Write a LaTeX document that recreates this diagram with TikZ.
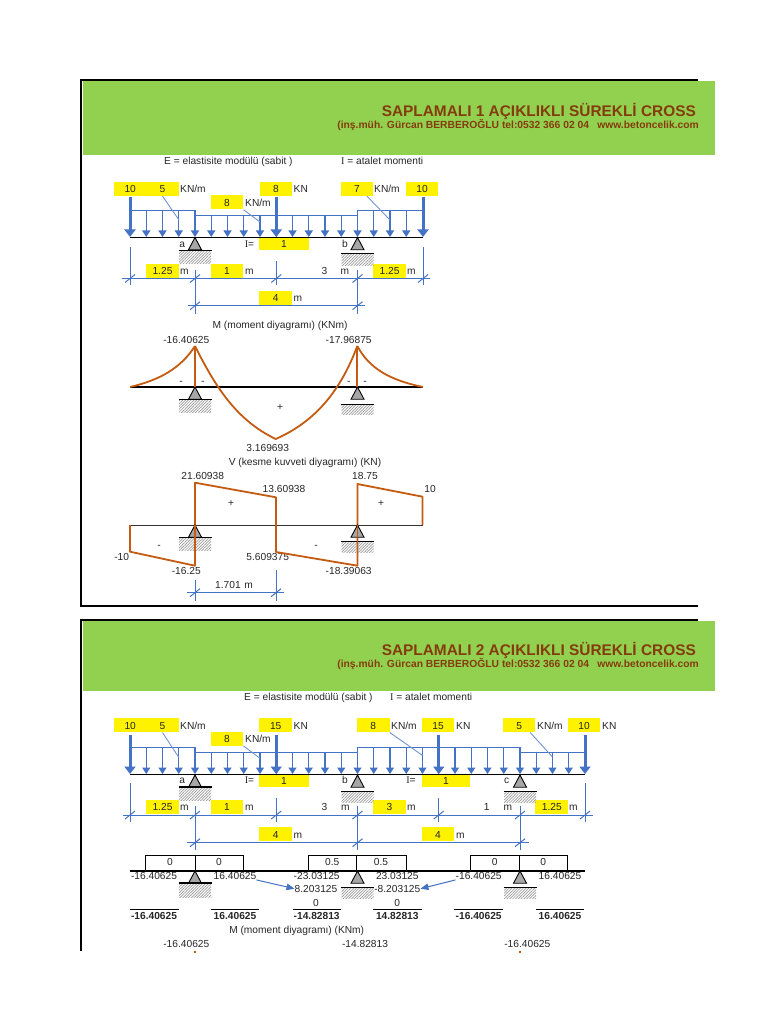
\documentclass[tikz,border=0pt]{standalone}
\usepackage{fontspec}
\setmainfont{Liberation Sans}
\newfontfamily\serifface{Liberation Serif}
\usepackage{xcolor}
\usetikzlibrary{arrows.meta, patterns.meta}
\definecolor{loadblue}{HTML}{4472C4}
\definecolor{leadblue}{HTML}{6F94D6}
\definecolor{diagorange}{HTML}{C55A11}
\definecolor{headgreen}{HTML}{92D050}
\definecolor{headbrown}{HTML}{843C0C}
\newcommand{\serifI}{\hbox{\serifface I}}
\tikzset{
    val/.style={inner sep=0pt, text height=7.4pt, text depth=0pt, font=\fontsize{10.2}{12}\selectfont, text=black!85},
    unit/.style={val, anchor=west},
    strong/.style={val, font=\bfseries\fontsize{10.2}{12}\selectfont},
    yval/.style={val, rectangle, fill=yellow, minimum width=32.5pt, minimum height=14pt},
    yhead/.style={inner sep=0pt, anchor=east, text=headbrown, font=\bfseries\fontsize{15.4}{18}\selectfont},
    ysub/.style={inner sep=0pt, anchor=east, text=headbrown, font=\bfseries\fontsize{10.3}{12}\selectfont},
    frameline/.style={draw=black, line width=2.4pt},
    band/.style={fill=headgreen},
    udl/.style={draw=loadblue, line width=1.2pt, -{Triangle[width=8pt, length=6.5pt]}},
    point/.style={draw=loadblue, line width=3pt, -{Triangle[width=11pt, length=7.5pt]}},
    loadtop/.style={draw=loadblue, line width=1pt},
    leader/.style={draw=leadblue, line width=0.9pt},
    carry/.style={draw=loadblue, line width=1pt, -{Triangle[width=6.5pt, length=8pt]}},
    dimline/.style={draw=loadblue, line width=1pt},
    beam/.style={draw=black, line width=1.3pt},
    beamthick/.style={draw=black, line width=2pt},
    pinfill/.style={draw=black, line width=0.9pt, fill=black!35},
    hatchbox/.style={pattern={Lines[angle=45, distance=2pt, line width=0.7pt]}, pattern color=black!40},
    diag/.style={draw=diagorange, line width=1.8pt, line join=round}
}
\begin{document}
\begin{tikzpicture}[x=1pt, y=-1pt]
    \useasboundingbox (0,0) rectangle (768,1024);

    % First sheet: frame and header
    \fill[band] (83,81) rectangle (715,155);
    \draw[frameline] (698,80) -- (81,80) -- (81,606) -- (698,606);
    \node[yhead] (titleA) at (696,112) {SAPLAMALI 1 AÇIKLIKLI SÜREKLİ CROSS};
    \node[ysub] (subA) at (699,125) {(inş.müh. Gürcan BERBEROĞLU tel:0532 366 02 04\hspace{0.8em}www.betoncelik.com};
    \node[unit] (noteE) at (164,161) {E = elastisite modülü (sabit )};
    \node[unit] (noteI) at (341,161) {\serifI{} = atalet momenti};

    % First sheet: loads
    \draw[loadtop] (130,211) -- (195,211) -- (195,215.5) -- (357.5,215.5) -- (357.5,211) -- (423,211);
    \foreach \i in {1,...,4,15,16,17} \draw[udl] ({130+16.25*\i},211) -- ({130+16.25*\i},237);
    \foreach \i in {5,...,14} \draw[udl] ({130+16.25*\i},215.5) -- ({130+16.25*\i},237);
    \foreach \px in {130,276.25,423} \draw[point] (\px,197) -- (\px,237);
    \draw[beam] (130,237.5) -- (423,237.5);

    % First sheet: input boxes
    \node[yval] (qa) at (130.2,189) {10};
    \node[yval] (qb) at (162.5,189) {5};
    \node[yval] (pm) at (276,189) {8};
    \node[yval] (qd) at (357,189) {7};
    \node[yval] (pr) at (422,189) {10};
    \node[yval] (qc) at (227,202.5) {8};
    \node[yval, minimum width=50pt, minimum height=12.5pt] (ia) at (284,244) {1};
    \foreach \px/\py/\txt [count=\n] in {180/189/{KN/m},293.5/189/KN,374/189/{KN/m},245/202.5/{KN/m},180/271/m,245/271/m,340.5/271/m,407/271/m,293.5/298/m} \node[unit] (ua\n) at (\px,\py) {\txt};
    \node[val] (ea) at (249.5,243.5) {\serifI=};
    \node[val] (sa) at (182.3,243.5) {a};
    \node[val] (sb) at (345,243.5) {b};
    \coordinate (la) at (179,220);
    \coordinate (lb) at (260,222);
    \coordinate (lc) at (390,220);
    \draw[leader] (qb.south) -- (la);
    \draw[leader] (qc.south east) -- (lb);
    \draw[leader] ([xshift=10pt]qd.south) -- (lc);

    % First sheet: dimensions
    \node[yval, minimum width=33pt] (da) at (162.5,270.8) {1.25};
    \node[yval] (db) at (227,270.8) {1};
    \node[val] (dc) at (324.5,271) {3};
    \node[yval, minimum width=33pt] (dd) at (389.5,270.8) {1.25};
    \node[yval] (de) at (275.7,298) {4};
    \draw[dimline] (122,278.5) -- (430,278.5);
    \draw[dimline] (188,305.7) -- (365,305.7);
    \foreach \px/\ya/\yb in {130/247/285,195/269.5/285,276.25/261/285,357.5/269.5/285,423/247/285} {
        \draw[dimline] (\px,\ya) -- (\px,\yb);
        \draw[dimline] (\px-5,282.5) -- (\px+5,274.5);
    }
    \foreach \px in {195,357.5} {
        \draw[dimline] (\px,285) -- (\px,314);
        \draw[dimline] (\px-5,309.7) -- (\px+5,301.7);
    }

    % First sheet: moment diagram
    \node[val] (mt) at (280,325) {M (moment diyagramı) (KNm)};
    \draw[beamthick] (130,387) -- (423,387);
    \draw[diag] (130,387) .. controls (160,380) and (181,368) .. (195,346);
    \draw[diag] (195,346) .. controls (215,386) and (236,420) .. (275.7,439) .. controls (312,423) and (339,395) .. (357.3,346);
    \draw[diag] (357.3,346) .. controls (369,368) and (389,380) .. (423,387);
    \foreach \px/\py/\txt [count=\n] in {186.3/340/-16.40625,348.7/340/-17.96875,181/381/-,202.7/381/-,348.7/381/-,365/381/-,280/406.7/+,267.7/447.7/3.169693,305/462/{V (kesme kuvveti diyagramı) (KN)},202.7/475.7/21.60938,284/489/13.60938,365/475.7/18.75,430/489/10,231/503/+,381/503/+,159/545/-,316/545/-,121.7/557/-10,186.3/570.7/-16.25,267.7/557/5.609375,348.7/570.7/-18.39063} \node[val] (mv\n) at (\px,\py) {\txt};

    % First sheet: shear diagram
    \draw[draw=black!80, line width=0.9pt] (130,525) -- (423,525);
    \draw[diag] (130,525) -- (130,551.7) -- (195,565.7) -- (195,482.7) -- (276,497.3) -- (276,552) -- (357.5,565.7) -- (357.5,484) -- (422.5,496.7) -- (422.5,525);
    \node[val] (lv) at (234,585) {1.701\hspace{0.35em}m};
    \draw[dimline] (187,592.7) -- (284,592.7);
    \draw[dimline] (195,580) -- (195,601);
    \draw[dimline] (276,570) -- (276,601);
    \foreach \px in {195,276} \draw[dimline] (\px-5,596.7) -- (\px+5,588.7);

    % Second sheet: frame and header
    \fill[band] (83,621) rectangle (715,691);
    \draw[frameline] (698,620) -- (81,620) -- (81,951);
    \node[yhead] (titleB) at (696,650) {SAPLAMALI 2 AÇIKLIKLI SÜREKLİ CROSS};
    \node[ysub] (subB) at (699,664) {(inş.müh. Gürcan BERBEROĞLU tel:0532 366 02 04\hspace{0.8em}www.betoncelik.com};
    \node[unit] (noteF) at (244,697) {E = elastisite modülü (sabit )};
    \node[unit] (noteJ) at (390,697) {\serifI{} = atalet momenti};

    % Second sheet: loads
    \draw[loadtop] (130,747.5) -- (195,747.5) -- (195,752) -- (357.5,752) -- (357.5,747.5) -- (520,747.5) -- (520,752) -- (585,752);
    \foreach \i in {1,...,4,15,16,...,24} \draw[udl] ({130+16.25*\i},747.5) -- ({130+16.25*\i},774);
    \foreach \i in {5,...,14,25,26,27} \draw[udl] ({130+16.25*\i},752) -- ({130+16.25*\i},774);
    \foreach \px in {130,276.25,438.75,585} \draw[point] (\px,734.5) -- (\px,774);
    \draw[beam] (130,774.5) -- (585,774.5);

    % Second sheet: input boxes
    \node[yval] (ra) at (130.2,725.3) {10};
    \node[yval] (rb) at (162.5,725.3) {5};
    \node[yval] (pa) at (275.7,725.3) {15};
    \node[yval] (rd) at (373.3,725.3) {8};
    \node[yval] (pb) at (438,725.3) {15};
    \node[yval] (re) at (519.2,725.3) {5};
    \node[yval] (pc) at (584,725.3) {10};
    \node[yval, minimum height=13.4pt] (rc) at (227,739) {8};
    \node[yval, minimum width=50pt, minimum height=12.5pt] (ib) at (284,781) {1};
    \node[yval, minimum width=48pt, minimum height=12.5pt] (ic) at (446,781) {1};
    \foreach \px/\py/\txt [count=\n] in {180/725.3/{KN/m},293.5/725.3/KN,391/725.3/{KN/m},456/725.3/KN,537/725.3/{KN/m},602/725.3/KN,245/739/{KN/m},180/807/m,245/807/m,341/807/m,407/807/m,503.5/807/m,569/807/m,293.5/834.5/m,456/834.5/m} \node[unit] (ub\n) at (\px,\py) {\txt};
    \node[val] (eb) at (249.5,780) {\serifI=};
    \node[val] (ec) at (411,780) {\serifI=};
    \node[val] (tb) at (182.3,780) {a};
    \node[val] (tc) at (345,780) {b};
    \node[val] (td) at (506.7,780) {c};
    \coordinate (lf) at (179,757.7);
    \coordinate (lg) at (260,758.3);
    \coordinate (lh) at (422.3,755.3);
    \coordinate (li) at (552.3,756.7);
    \draw[leader] (rb.south) -- (lf);
    \draw[leader] (rc.south east) -- (lg);
    \draw[leader] (rd.south east) -- (lh);
    \draw[leader] ([xshift=11pt]re.south) -- (li);

    % Second sheet: dimensions
    \node[yval, minimum width=33pt] (dp) at (162.5,806.7) {1.25};
    \node[yval] (dq) at (227,806.7) {1};
    \node[val] (dr) at (324.5,807) {3};
    \node[yval] (ds) at (389.5,806.7) {3};
    \node[val] (dt) at (486.7,807) {1};
    \node[yval, minimum width=33pt] (du) at (551.8,806.7) {1.25};
    \node[yval] (dv) at (275.7,834.3) {4};
    \node[yval] (dw) at (438,834.3) {4};
    \draw[dimline] (123,815) -- (593,815);
    \draw[dimline] (187,842.7) -- (529,842.7);
    \foreach \px/\ya in {130/783,195/806,276.25/798,357.5/806,438.75/798,520/806,585/783} {
        \draw[dimline] (\px,\ya) -- (\px,822);
        \draw[dimline] (\px-5,819) -- (\px+5,811);
    }
    \foreach \px in {195,357.5,520} {
        \draw[dimline] (\px,822) -- (\px,850);
        \draw[dimline] (\px-5,846.7) -- (\px+5,838.7);
    }

    % Second sheet: distribution table
    \draw[draw=black, line width=1pt] (145.5,870) -- (145.5,855) -- (243.5,855) -- (243.5,870);
    \draw[draw=black, line width=1pt] (308.5,870) -- (308.5,855) -- (406,855) -- (406,870);
    \draw[draw=black, line width=1pt] (470.7,870) -- (470.7,855) -- (567.7,855) -- (567.7,870);
    \foreach \px in {195,356.5,519.5} \draw[draw=black, line width=1pt] (\px,855) -- (\px,870);
    \draw[beamthick] (130,870.5) -- (585,870.5);
    \foreach \px/\py/\txt [count=\n] in {170/862/0,219/862/0,332.3/862/0.5,381/862/0.5,494.7/862/0,543.3/862/0,154/876/-16.40625,235/876/16.40625,316.7/876/-23.03125,397.3/876/23.03125,478.7/876/-16.40625,560/876/16.40625,316/888.7/8.203125,397.3/888.7/-8.203125,316/902.7/0,397.3/902.7/0,296.7/929.3/{M (moment diyagramı) (KNm)},186.3/943.3/-16.40625,365/943.3/-14.82813,527.3/943.3/-16.40625} \node[val] (cr\n) at (\px,\py) {\txt};
    \foreach \px/\txt [count=\n] in {154/-16.40625,235/16.40625,316.7/-14.82813,397.3/14.82813,478.7/-16.40625,560/16.40625} \node[strong] (sm\n) at (\px,916) {\txt};
    \foreach \xa/\xb in {130/178.7,211/259.3,292.7/340.7,373.3/421.7,454/503.3,536/584} \draw[draw=black, line width=1pt] (\xa,909) -- (\xb,909);
    \draw[carry] (cr8.south east) -- (cr13.west);
    \draw[carry] (cr11.south west) -- (cr14.east);
    \foreach \px in {195,520} \draw[diag] (\px,951) -- (\px,953);

    % Supports: x, apex, ground line, hatch bottom, line width
    \foreach \sx/\sy/\ly/\hb/\lw in {
        195/237.5/250/263/0.9,357.5/237.5/253.7/265/1.5,
        195/387/399.5/412.7/1.3,357.5/387/404/414.5/1,
        195/525/537/550/1,357.5/525/541.3/552/1.5,
        195/775/787/800/1.5,357.5/775/791/802/1,520/775/791/802/1,
        195/871/883/897/1.5,357.5/871/887.3/898/1,520/871/887.3/898/1} {
        \fill[hatchbox] (\sx-16,\ly+0.5) rectangle (\sx+16,\hb);
        \draw[pinfill] (\sx,\sy) -- (\sx-6.5,\sy+12.2) -- (\sx+6.5,\sy+12.2) -- cycle;
        \draw[draw=black, line width=\lw pt] (\sx-16.5,\ly) -- (\sx+16.5,\ly);
    }
    % Orange lines pass over the supports
    \draw[diag] (195,525) -- (195,565);
    \draw[diag] (357.5,525) -- (357.5,565);
    \draw[diag] (195,346) -- (195,387);
    \draw[diag] (357.3,346) -- (357.3,387);

\end{tikzpicture}
\end{document}
